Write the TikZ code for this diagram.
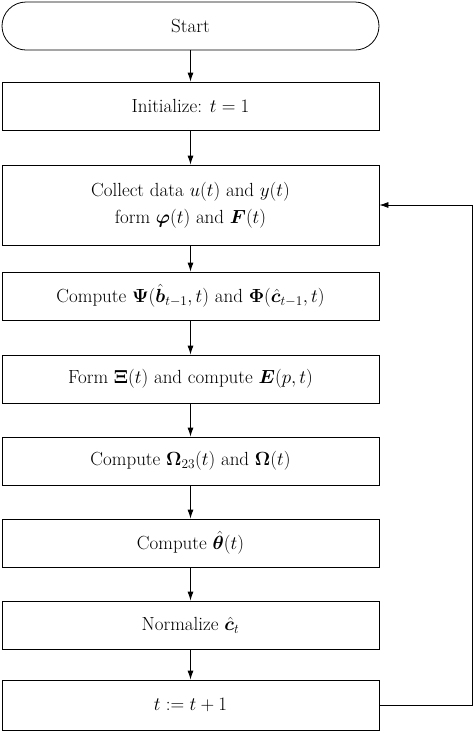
\RequirePackage{fix-cm}
\documentclass[tikz,border=0pt]{standalone}
\usepackage{amsmath,amssymb,bm}
\usetikzlibrary{arrows.meta,positioning}
\begin{document}
\begin{tikzpicture}[x=1pt,y=-1pt,
  block/.style={draw,thick,minimum width=377pt,minimum height=48pt,align=center,
    font=\fontsize{19}{27}\selectfont,inner sep=0pt},
  flow/.style={-{Latex[length=9pt,width=6pt]},thick}]
  \useasboundingbox (0,0) rectangle (474,732);
  \node[block,rounded corners=24pt] (start) at (190.5,26) {Start};
  \node[block] (init) at (190.5,106) {Initialize: $t=1$};
  \node[block,minimum height=80pt] (collect) at (190.5,205)
    {Collect data $u(t)$ and $y(t)$\\form $\bm{\varphi}(t)$ and $\bm{F}(t)$};
  \node[block] (psi) at (190.5,296)
    {Compute $\bm{\Psi}(\hat{\bm{b}}_{t-1},t)$ and $\bm{\Phi}(\hat{\bm{c}}_{t-1},t)$};
  \node[block] (form) at (190.5,379) {Form $\bm{\Xi}(t)$ and compute $\bm{E}(p,t)$};
  \node[block] (omega) at (190.5,461) {Compute $\bm{\Omega}_{23}(t)$ and $\bm{\Omega}(t)$};
  \node[block] (theta) at (190.5,543) {Compute $\hat{\bm{\theta}}(t)$};
  \node[block] (norm) at (190.5,625) {Normalize $\hat{\bm{c}}_t$};
  \node[block,minimum height=50pt] (incr) at (190.5,705) {$t:=t+1$};
  \coordinate (back) at (472,705);
  % main flow
  \foreach \a/\b in {start/init,init/collect,collect/psi,psi/form,form/omega,omega/theta,theta/norm,norm/incr}
    \draw[flow] (\a) -- (\b);
  % loop back
  \draw[flow] (incr.east) -- (back) |- (collect.east);
\end{tikzpicture}
\end{document}
